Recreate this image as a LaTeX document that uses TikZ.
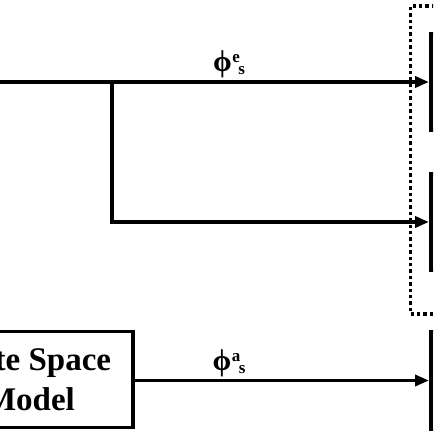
\documentclass[tikz,border=0pt]{standalone}
\usepackage{fontspec}
\setmainfont{Liberation Serif}
\usetikzlibrary{arrows.meta}
\newcommand{\phisym}{\symbol{"03D5}}
\newcommand{\philabel}[1]{{\fontsize{30pt}{32pt}\selectfont\bfseries\phisym}\hspace{0.5pt}\raisebox{9pt}{\fontsize{17pt}{18pt}\selectfont\bfseries #1}\hspace{-1.5pt}\raisebox{-3pt}{\fontsize{17pt}{18pt}\selectfont\bfseries s}}
\tikzset{
  conn/.style={line width=3.6pt},
  arr/.style={conn,-{Triangle[length=14pt,width=11pt]}},
  blk/.style={draw,line width=3.6pt,inner sep=0pt,fill=none},
  dotbox/.style={draw,line width=3.6pt,dash pattern=on 3.4pt off 3pt},
  lbl/.style={inner sep=0pt,font=\bfseries},
}
\begin{document}
\begin{tikzpicture}[x=1pt,y=-1pt]
\useasboundingbox (0,0) rectangle (433,433);
\clip (0,0) rectangle (433,433);
\fill[white] (0,0) rectangle (433,433);
% dotted group box
\draw[dotbox] (480,6) -- (410.5,6) -- (410.5,314) -- (480,314);
% right boxes
\node[blk,minimum width=100pt,minimum height=96pt,anchor=west] (b1) at (429,82) {};
\node[blk,minimum width=100pt,minimum height=96pt,anchor=west] (b2) at (429,222) {};
\node[blk,minimum width=100pt,minimum height=98pt,anchor=west] (b3) at (429,380.5) {};
% state space model
\node[blk,minimum width=206pt,minimum height=96pt,align=center,
      font=\fontsize{33pt}{40pt}\selectfont\bfseries] (ssm) at (30,379.5) {State Space\\Model};
% connectors
\coordinate (src) at (-20,82);
\coordinate (j) at (112,82);
\draw[arr] (src) -- (b1.west);
\draw[arr] (j) |- (b2.west);
\draw[arr] (ssm.east |- b3.west) -- (b3.west);
% labels
\node[lbl] (le) at (229,64) {\philabel{e}};
\node[lbl] (la) at (229,363) {\philabel{a}};
\end{tikzpicture}
\end{document}
